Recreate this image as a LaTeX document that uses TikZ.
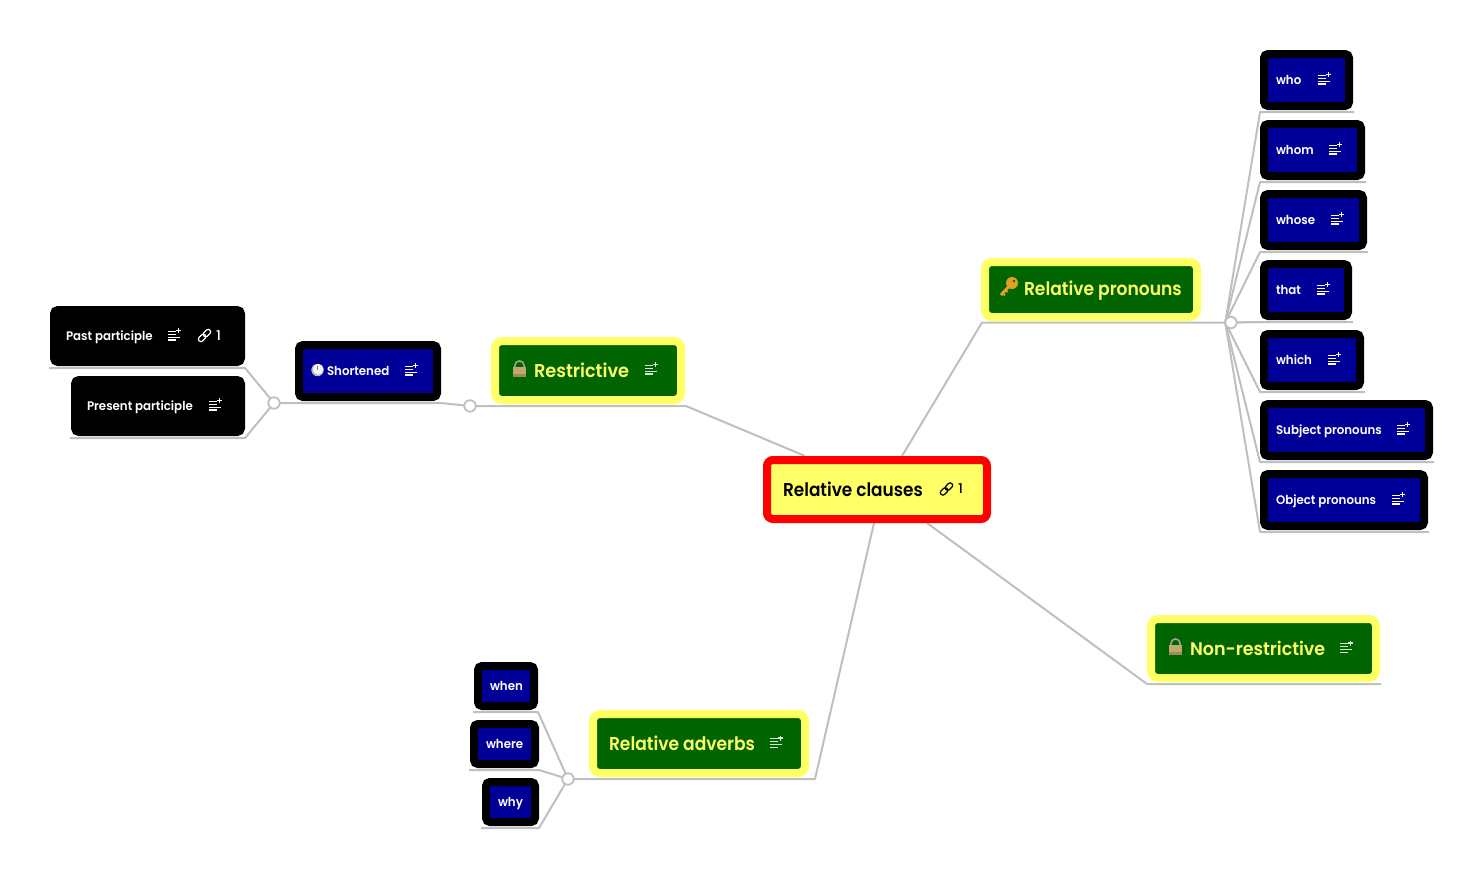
\documentclass[tikz,border=0pt]{standalone}
\usepackage{fontspec}
\newfontfamily\mmsmall{Poppins SemiBold}[FakeStretch=0.953]
\newfontfamily\mmbig{Poppins SemiBold}[FakeStretch=0.92]
\newfontfamily\mmbigw{Poppins SemiBold}[FakeStretch=0.955]
\newfontfamily\mmroot{Poppins SemiBold}[FakeStretch=0.91]
\newfontfamily\mmnum{Poppins Medium}[FakeStretch=1.05]
\usetikzlibrary{calc,backgrounds}
\definecolor{mmblue}{HTML}{000099}
\definecolor{mmgreen}{HTML}{006400}
\definecolor{mmyellow}{HTML}{FFFF66}
\definecolor{mmline}{HTML}{BFBFBF}
\definecolor{lockbody}{HTML}{BFA86F}
\definecolor{lockdark}{HTML}{A08A58}
\definecolor{keygold}{HTML}{E0A024}
\tikzset{
  conn/.style={draw=mmline,line width=2pt,line join=round},
  hub/.style={circle,draw=mmline,fill=white,line width=1.8pt,minimum size=11.5pt,inner sep=0pt,outer sep=0pt},
  boxbase/.style={rectangle,inner sep=0pt,outer sep=0pt,line width=8pt},
  bluebox/.style={boxbase,draw=black,fill=mmblue,rounded corners=4pt},
  blackbox/.style={boxbase,draw=black,fill=black,rounded corners=4pt},
  greenbox/.style={boxbase,draw=mmyellow,fill=mmgreen,rounded corners=7pt},
  rootbox/.style={boxbase,draw=red,fill=mmyellow,rounded corners=6pt},
  smalltxt/.style={anchor=base west,inner sep=0pt,outer sep=0pt,text=white,font=\mmsmall\fontsize{12.4}{14}\selectfont},
  bigtxt/.style={anchor=base west,inner sep=0pt,outer sep=0pt,text=mmyellow,font=\mmbig\fontsize{18.6}{22}\selectfont},
  bigwtxt/.style={bigtxt,font=\mmbigw\fontsize{18.6}{22}\selectfont},
  roottxt/.style={anchor=base west,inner sep=0pt,outer sep=0pt,text=black,font=\mmroot\fontsize{18.6}{22}\selectfont},
  numtxt/.style={anchor=base west,inner sep=0pt,outer sep=0pt,font=\mmnum\fontsize{13.5}{14}\selectfont},
  notes/.pic={
    \draw[line width=1.2pt,pic actions] (0,-4.3)--(7.5,-4.3) (0,-1.4)--(7.5,-1.4) (0,1.6)--(12,1.6) (0,4.4)--(8,4.4);
    \draw[line width=1.3pt,pic actions] (10.6,-7.4)--(10.6,-2.4) (8.1,-4.9)--(13.1,-4.9);
  },
  linkicon/.pic={
    \draw[line width=1.2pt,pic actions,rotate=45,rounded corners=2.4pt] (-7.6,-2.5) rectangle (0.8,2.5);
    \draw[line width=1.2pt,pic actions,rotate=45,rounded corners=2.4pt] (-0.8,-2.5) rectangle (7.6,2.5);
  },
  lockicon/.pic={
    \draw[line width=1.6pt,draw=gray!75] (-4.6,0) -- (-4.6,-3) arc[start angle=180,end angle=360,radius=4.6] -- (4.6,0);
    \fill[lockbody] (-6.5,-1.5) rectangle (6.5,8.5);
    \fill[lockdark] (-6.5,5.5) rectangle (6.5,8.5);
  },
  keyicon/.pic={
    \draw[line width=3pt,draw=keygold] (3,-4) -- (-8,8);
    \draw[line width=2pt,draw=keygold] (-6.4,6.2) -- (-4,8.2) (-3.4,3.2) -- (-1.4,5);
    \fill[keygold] (3,-4) circle[radius=6];
    \fill[mmgreen] (5,-6) circle[radius=1.3];
  },
  clockicon/.pic={
    \fill[gray!55] (0,0) circle[radius=6.2];
    \fill[white!92!gray] (0.7,-0.7) circle[radius=5.3];
    \draw[line width=.7pt,gray] (0,-4) -- (0,0);
  }
}
% name, x1,y1,x2,y2 (outer), style
\newcommand{\mmbox}[6]{%
  \pgfmathsetmacro{\bw}{#4-#2-8}\pgfmathsetmacro{\bh}{#5-#3-8}%
  \node[#6,minimum width=\bw pt,minimum height=\bh pt] (#1) at ({(#2+#4)/2},{(#3+#5)/2}) {};%
  \coordinate (#1-l) at (#2,#5+2);\coordinate (#1-r) at (#4,#5+2);}
\begin{document}
\begin{tikzpicture}[x=1pt,y=-1pt]
\useasboundingbox (0,0) rectangle (1483,876);
% boxes
\mmbox{root}{763}{456}{991}{523}{rootbox}
\mmbox{pron}{981}{258}{1201}{321}{greenbox}
\mmbox{restr}{491}{337}{685}{404}{greenbox}
\mmbox{nonr}{1147}{615}{1380}{682}{greenbox}
\mmbox{adv}{589}{710}{809}{777}{greenbox}
\mmbox{short}{295}{341}{441}{401}{bluebox}
\mmbox{past}{50}{306}{245}{366}{blackbox}
\mmbox{pres}{71}{376}{245}{436}{blackbox}
\mmbox{who}{1260}{50}{1353}{110}{bluebox}
\mmbox{whom}{1260}{120}{1365}{180}{bluebox}
\mmbox{whose}{1260}{190}{1367}{250}{bluebox}
\mmbox{that}{1260}{260}{1352}{320}{bluebox}
\mmbox{which}{1260}{330}{1364}{390}{bluebox}
\mmbox{subj}{1260}{400}{1433}{460}{bluebox}
\mmbox{obj}{1260}{470}{1428}{530}{bluebox}
\mmbox{when}{474}{662}{538}{710}{bluebox}
\mmbox{where}{470}{720}{539}{768}{bluebox}
\mmbox{why}{482}{778}{539}{826}{bluebox}
% connector anchors
\coordinate (rootA) at (805,456);
\coordinate (rootB) at (902,456);
\coordinate (rootC) at (927,523);
\coordinate (rootD) at (874,523);
\coordinate (shortEnd) at (441,403);
\coordinate (restrEnd) at (686,406);
\coordinate (pronEnd) at (982,322.5);
\coordinate (nonrEnd) at (1147,684);
\coordinate (nonrR) at (1381,684);
\coordinate (advEnd) at (815,779);
% hubs
\node[hub] (hubA) at (274,403) {};
\node[hub] (hubB) at (470,406) {};
\node[hub] (hubC) at (1231,322.5) {};
\node[hub] (hubD) at (568,779) {};
% connectors
\begin{scope}[on background layer]
\draw[conn] (rootA) -- (restrEnd) -- (hubB);
\draw[conn] (hubB) -- (shortEnd) -- (hubA);
\draw[conn] (hubA) -- (past-r) -- ($(past-l)+(-1,0)$);
\draw[conn] (hubA) -- (pres-r) -- ($(pres-l)+(-1,0)$);
\draw[conn] (rootB) -- (pronEnd) -- (hubC);
\draw[conn] (rootC) -- (nonrEnd) -- (nonrR);
\draw[conn] (rootD) -- (advEnd) -- (hubD);
\foreach \n in {who,whom,whose,that,which,subj,obj}
  \draw[conn] (hubC.west) -- (\n-l) -- ($(\n-r)+(1,0)$);
\draw[conn] (hubC) -- (that-l);
\foreach \n in {when,where,why}
  \draw[conn] (hubD) -- (\n-r) -- ($(\n-l)+(-1,0)$);
\end{scope}
% texts
\node[smalltxt] (tpast) at (66,340) {Past participle};
\node[smalltxt] (tpres) at (87,410) {Present participle};
\node[smalltxt] (tshort) at (327,375) {Shortened};
\node[smalltxt] (twho) at (1276,84) {who};
\node[smalltxt] (twhom) at (1276,154) {whom};
\node[smalltxt] (twhose) at (1276,224) {whose};
\node[smalltxt] (tthat) at (1276,294) {that};
\node[smalltxt] (twhich) at (1276,364) {which};
\node[smalltxt] (tsubj) at (1276,434) {Subject pronouns};
\node[smalltxt] (tobj) at (1276,504) {Object pronouns};
\node[smalltxt] (twhen) at (490,690) {when};
\node[smalltxt] (twhere) at (486,748) {where};
\node[smalltxt] (twhy) at (498,806) {why};
\node[bigwtxt] (trestr) at (534,377) {Restrictive};
\node[bigtxt] (tpron) at (1024,295) {Relative pronouns};
\node[bigtxt,font=\mmbigw\fontsize{18.3}{22}\selectfont] (tnonr) at (1190,655) {Non-restrictive};
\node[bigtxt] (tadv) at (609,750) {Relative adverbs};
\node[roottxt] (troot) at (783,496) {Relative clauses};
\node[numtxt,text=white] (n1) at (216,340) {1};
\node[numtxt,text=black] (n2) at (958,493) {1};
% icons
\foreach \x/\y in {168/335.5,209/405.5,405/370.5,1318/79.5,1329/149.5,1331/219.5,1317/289.5,1328/359.5,1397/429.5,1392/499.5}
  \pic[draw=white] at (\x,\y) {notes};
\foreach \x/\y in {645/369.5,770/743,1340/648}
  \pic[draw=white!85!mmgreen] at (\x,\y) {notes};
\pic[draw=white] at (204.5,335.5) {linkicon};
\pic[draw=black] at (946.5,489) {linkicon};
\pic at (519.5,368.5) {lockicon};
\pic at (1175.5,646.5) {lockicon};
\pic at (1009,287) {keyicon};
\pic at (317.5,370) {clockicon};
\end{tikzpicture}
\end{document}
